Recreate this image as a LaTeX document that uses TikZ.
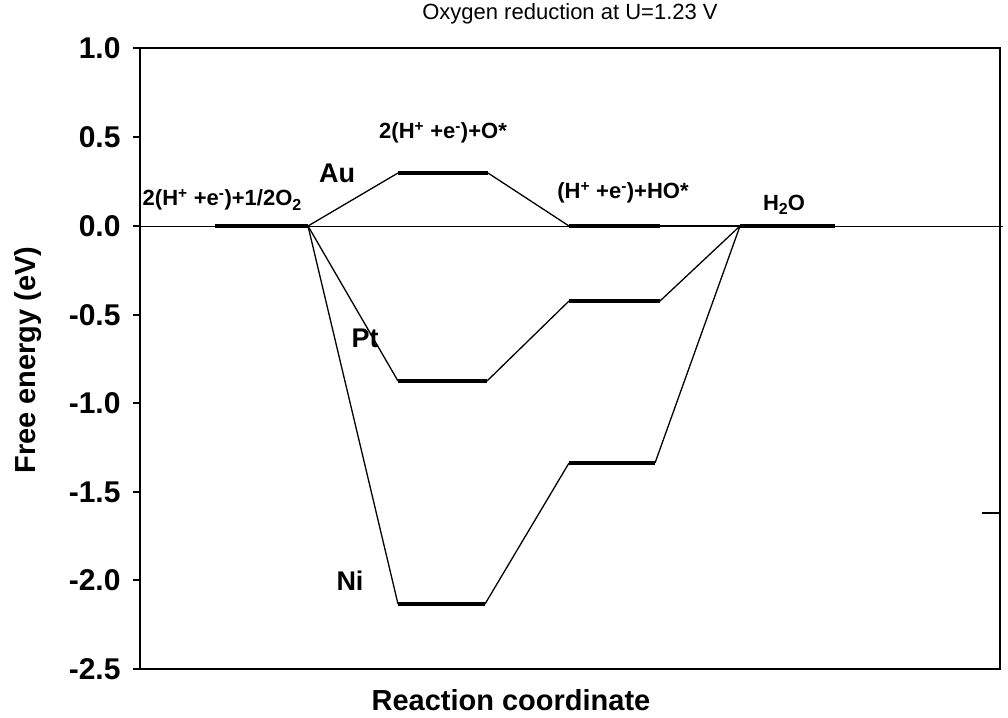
\documentclass[tikz,border=0pt]{standalone}
\usepackage{fontspec}
\setmainfont{Liberation Sans}
\newcommand{\su}[1]{\textsuperscript{#1}}
\newcommand{\sd}[1]{\raisebox{-0.35ex}{\fontsize{16}{16}\selectfont #1}}
\begin{document}
\begin{tikzpicture}[x=1pt,y=-1pt,
 lvl/.style={line width=4.8pt},
 conn/.style={line width=1.3pt},
 lab/.style={font=\fontsize{22}{22}\selectfont\bfseries},
 big/.style={font=\fontsize{27}{27}\selectfont\bfseries},
 tl/.style={font=\fontsize{30}{30}\selectfont\bfseries,anchor=east}]
\useasboundingbox (0,0) rectangle (1008,717);
\draw[line width=1.7pt] (140,48) rectangle (1000,669);
\draw[line width=0.9pt] (140,226) -- (1003,226);
\draw[line width=1.1pt] (982,513) -- (1000,513);
\foreach \v/\y in {1.0/48,0.5/137,0.0/226,-0.5/315,-1.0/403,-1.5/492,-2.0/580,-2.5/669}{
 \draw[line width=1.1pt] (133,\y) -- (140,\y);
 \node[tl] at (124,\y) {\v};}
\node[font=\fontsize{22}{22}\selectfont] (title) at (570,14) {Oxygen reduction at U=1.23 V};
\node[font=\fontsize{29}{29}\selectfont\bfseries] (xl) at (511,700) {Reaction coordinate};
\node[font=\fontsize{29}{29}\selectfont\bfseries,rotate=90] (yl) at (28,360) {Free energy (eV)};
\coordinate (a1) at (215,226); \coordinate (a2) at (308,226);
\coordinate (b1) at (398,173); \coordinate (b2) at (488,173);
\coordinate (c1) at (398,381); \coordinate (c2) at (487,381);
\coordinate (d1) at (398,604); \coordinate (d2) at (485,604);
\coordinate (e1) at (569,226); \coordinate (e2) at (660,226);
\coordinate (f1) at (569,301); \coordinate (f2) at (660,301);
\coordinate (g1) at (569,463); \coordinate (g2) at (655,463);
\coordinate (h1) at (740,226); \coordinate (h2) at (835,226);
\foreach \p/\q in {a1/a2,b1/b2,c1/c2,d1/d2,e1/e2,f1/f2,g1/g2,h1/h2}
 \draw[lvl] (\p) -- (\q);
\foreach \p/\q in {a2/b1,b2/e1,e2/h1,a2/c1,c2/f1,f2/h1,a2/d1,d2/g1,g2/h1}
 \draw[conn] (\p) -- (\q);
\node[big] (au) at (337,173) {Au};
\node[big] (pt) at (365,338) {Pt};
\node[big] (ni) at (350,581) {Ni};
\node[lab] (l1) at (222,200) {2(H\su{+} +e\su{-})+1/2O\sd{2}};
\node[lab] (l2) at (443,133) {2(H\su{+} +e\su{-})+O*};
\node[lab] (l3) at (623,193) {(H\su{+} +e\su{-})+HO*};
\node[lab] (l4) at (784,205) {H\sd{2}O};
\end{tikzpicture}
\end{document}
